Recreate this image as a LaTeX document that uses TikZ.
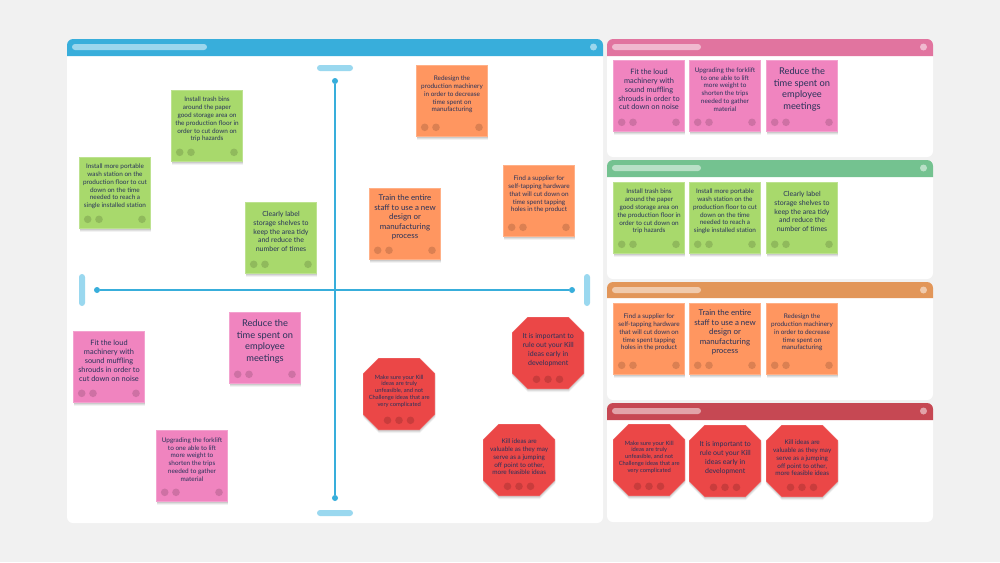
\documentclass[tikz,border=0pt]{standalone}
\usepackage{fontspec}
\setmainfont{Lato}
\usetikzlibrary{shadows}
\definecolor{bgcol}{HTML}{F1F1F1}
\definecolor{axiscol}{HTML}{38AEDB}
\definecolor{tabcol}{HTML}{9AD8EF}
\definecolor{pinkhead}{HTML}{E1749F}
\definecolor{greenhead}{HTML}{74C290}
\definecolor{orangehead}{HTML}{E29659}
\definecolor{redhead}{HTML}{C64853}
\definecolor{pinknote}{HTML}{F084BF}
\definecolor{greennote}{HTML}{A8D96C}
\definecolor{orangenote}{HTML}{FF9660}
\definecolor{rednote}{HTML}{EB4747}
\definecolor{inkcol}{HTML}{28325A}
\tikzset{
  softshadow/.style={
    drop shadow={shadow xshift=.4pt, shadow yshift=-3pt, opacity=.05, fill=black},
    drop shadow={shadow xshift=.4pt, shadow yshift=-2pt, opacity=.07, fill=black},
    drop shadow={shadow xshift=.2pt, shadow yshift=-1pt, opacity=.09, fill=black}},
  sticky/.style={rectangle, inner sep=0pt, minimum size=71.4pt, anchor=north west, draw=white, draw opacity=.25, line width=.6pt, softshadow},
  stopframe/.style={rectangle, inner sep=0pt, minimum size=72pt, anchor=north west},
  stopshape/.style={fill=rednote, draw=white, draw opacity=.25, line width=.6pt, softshadow},
  notedot/.style={fill=black, opacity=.14},
  headpill/.style={fill=white, opacity=.5, rounded corners=3pt},
  tab/.style={fill=tabcol, rounded corners=3pt},
  axisline/.style={axiscol, line width=1.6pt},
  axisend/.style={circle, fill=axiscol, inner sep=0pt, minimum size=6pt},
  notetext/.style={text=inkcol, align=center, inner sep=0pt},
  tiny/.style={notetext, font=\fontsize{5.8}{6.8}\selectfont},
  small/.style={notetext, font=\fontsize{6.4}{7.8}\selectfont},
  mid/.style={notetext, font=\fontsize{7}{8.9}\selectfont},
  wide/.style={notetext, font=\fontsize{7.4}{8.9}\selectfont},
  big/.style={notetext, font=\fontsize{7.9}{9.4}\selectfont},
  huge/.style={notetext, font=\fontsize{9.3}{11.5}\selectfont}
}
% #1 colour, #2 name, #3 position, #4 text size, #5 text
\newcommand{\notebox}[5]{
  \node[sticky, fill=#1] (#2) at (#3) {};
  \node[#4] (#2-text) at ([yshift=-29.5pt]#2.north) {#5};
  \foreach \dx in {8.7,20,63}
    \fill[notedot] (#2.north west) ++(\dx,62.3) circle (3.8pt);
}
\newcommand{\stopbox}[4]{
  \node[stopframe] (#1) at (#2) {};
  \draw[stopshape] (#1.north west) ++(15.5,0) -- ++(41,0) -- ++(15.5,15.5) -- ++(0,41) -- ++(-15.5,15.5)
    -- ++(-41,0) -- ++(-15.5,-15.5) -- ++(0,-41) -- cycle;
  \node[#3] (#1-text) at ([yshift=-33pt]#1.north) {#4};
  \foreach \dx in {24.5,36,47.5}
    \fill[notedot] (#1.north west) ++(\dx,62.3) circle (3.8pt);
}
% #1 colour, #2 left, #3 right, #4 top, #5 header bottom, #6 bottom, #7 pill end
\newcommand{\panel}[7]{
  \fill[white, rounded corners=6pt] (#2,#4) rectangle (#3,#6);
  \fill[#1] (#2,#5) [rounded corners=6pt] -- (#2,#4) -- (#3,#4) [sharp corners] -- (#3,#5) -- cycle;
  \fill[headpill] (#2+5,#4+5) rectangle (#7,#4+11);
  \fill[white, opacity=.5] (#3-9.5,#4+8) circle (3.5pt);
}
\begin{document}
\begin{tikzpicture}[x=1pt,y=-1pt]
\fill[bgcol] (0,0) rectangle (1000,562);
\useasboundingbox (0,0) rectangle (1000,562);

% panels
\panel{axiscol}{67}{603}{39}{56}{523}{207}
\panel{pinkhead}{607}{933}{39}{56}{157}{701}
\panel{greenhead}{607}{933}{160}{177}{279}{701}
\panel{orangehead}{607}{933}{282}{298}{400}{701}
\panel{redhead}{607}{933}{403}{420}{522}{701}

% axes
\fill[tab] (317,65) rectangle (353,71);
\fill[tab] (317,510) rectangle (353,516);
\fill[tab] (79,274) rectangle (85,306);
\fill[tab] (584,274) rectangle (590,306);
\node[axisend] (top) at (335,81) {};
\node[axisend] (bottom) at (335,498) {};
\node[axisend] (left) at (97,290) {};
\node[axisend] (right) at (572,290) {};
\draw[axisline] (top) -- (bottom);
\draw[axisline] (left) -- (right);

% matrix notes
\notebox{greennote}{trash}{171,90}{small}{Install trash bins\\around the paper\\good storage area on\\the production floor in\\order to cut down on\\trip hazards}
\notebox{greennote}{wash}{79,157}{small}{Install more portable\\wash station on the\\production floor to cut\\down on the time\\needed to reach a\\single installed station}
\notebox{greennote}{shelves}{245,202}{mid}{Clearly label\\storage shelves to\\keep the area tidy\\and reduce the\\number of times}
\notebox{orangenote}{redesign}{416,65}{small}{Redesign the\\production machinery\\in order to decrease\\time spent on\\manufacturing}
\notebox{orangenote}{train}{369,188}{big}{Train the entire\\staff to use a new\\design or\\manufacturing\\process}
\notebox{orangenote}{supplier}{503,165}{small}{Find a supplier for\\self-tapping hardware\\that will cut down on\\time spent tapping\\holes in the product}
\notebox{pinknote}{meetings}{229,312}{huge}{Reduce the\\time spent on\\employee\\meetings}
\notebox{pinknote}{noise}{73,331}{wide}{Fit the loud\\machinery with\\sound muffling\\shrouds in order to\\cut down on noise}
\notebox{pinknote}{forklift}{156,430}{small}{Upgrading the forklift\\to one able to lift\\more weight to\\shorten the trips\\needed to gather\\material}
\stopbox{unfeasible}{363,358}{tiny}{Make sure your Kill\\ideas are truly\\unfeasible, and not\\Challenge ideas that are\\very complicated}
\stopbox{ruleout}{512,317}{mid}{It is important to\\rule out your Kill\\ideas early in\\development}
\stopbox{valuable}{483,424}{small}{Kill ideas are\\valuable as they may\\serve as a jumping\\off point to other,\\more feasible ideas}

% pink list
\notebox{pinknote}{noise2}{613,60}{wide}{Fit the loud\\machinery with\\sound muffling\\shrouds in order to\\cut down on noise}
\notebox{pinknote}{forklift2}{689,60}{small}{Upgrading the forklift\\to one able to lift\\more weight to\\shorten the trips\\needed to gather\\material}
\notebox{pinknote}{meetings2}{766,60}{huge}{Reduce the\\time spent on\\employee\\meetings}

% green list
\notebox{greennote}{trash2}{613,182}{small}{Install trash bins\\around the paper\\good storage area on\\the production floor in\\order to cut down on\\trip hazards}
\notebox{greennote}{wash2}{689,182}{small}{Install more portable\\wash station on the\\production floor to cut\\down on the time\\needed to reach a\\single installed station}
\notebox{greennote}{shelves2}{766,182}{mid}{Clearly label\\storage shelves to\\keep the area tidy\\and reduce the\\number of times}

% orange list
\notebox{orangenote}{supplier2}{613,303}{small}{Find a supplier for\\self-tapping hardware\\that will cut down on\\time spent tapping\\holes in the product}
\notebox{orangenote}{train2}{689,303}{big}{Train the entire\\staff to use a new\\design or\\manufacturing\\process}
\notebox{orangenote}{redesign2}{766,303}{small}{Redesign the\\production machinery\\in order to decrease\\time spent on\\manufacturing}

% red list
\stopbox{unfeasible2}{613,424}{tiny}{Make sure your Kill\\ideas are truly\\unfeasible, and not\\Challenge ideas that are\\very complicated}
\stopbox{ruleout2}{689,425}{mid}{It is important to\\rule out your Kill\\ideas early in\\development}
\stopbox{valuable2}{766,425}{small}{Kill ideas are\\valuable as they may\\serve as a jumping\\off point to other,\\more feasible ideas}
\end{tikzpicture}
\end{document}
